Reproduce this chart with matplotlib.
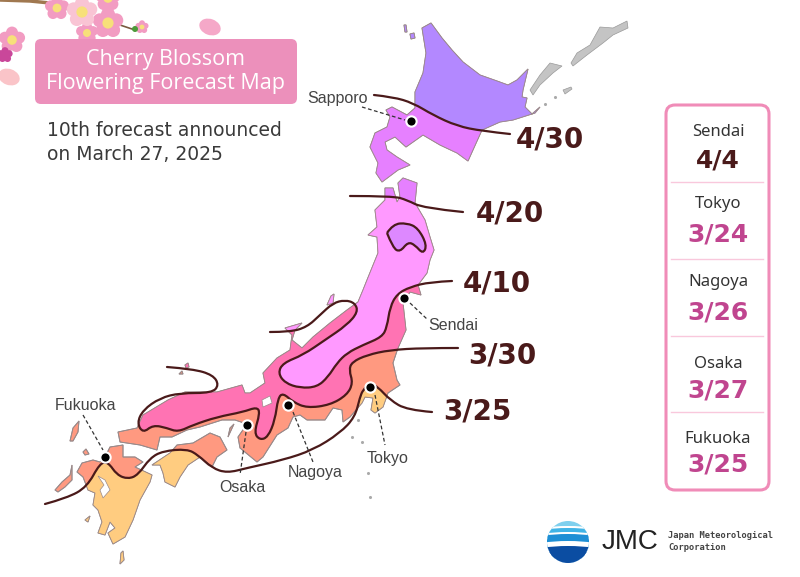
import matplotlib
matplotlib.use("Agg")
import matplotlib.pyplot as plt
from matplotlib.patches import Circle, Ellipse, FancyBboxPatch, PathPatch, Polygon, Rectangle
from matplotlib.path import Path
import numpy as np

# Map outlines in image pixels
hokkaido = [(422,28),(431,23),(442,38),(452,50),(463,62),(480,75),(497,81),(508,85),(517,80),(528,69),
            (523,90),(522,97),(527,98),(525,107),(532,114),(540,107),(535,113),(513,120),(500,122),(482,130),
            (468,161),(457,153),(440,145),(423,135),(406,147),(395,137),(385,142),(387,150),(397,157),(410,165),
            (398,170),(382,182),(376,173),(378,163),(370,147),(375,133),(387,127),(390,117),(386,110),(392,107),
            (407,115),(415,108),(415,92),(423,73),(426,53)]
honshu = [(385,188),(393,188),(397,202),(400,197),(398,183),(403,178),(417,183),(415,203),(425,220),(430,237),
          (434,250),(430,260),(427,273),(418,285),(421,295),(410,292),(403,303),(406,330),(398,348),(393,363),
          (397,380),(400,385),(388,393),(383,407),(375,413),(371,410),(373,398),(365,397),(362,403),(350,417),
          (343,422),(342,410),(333,408),(325,420),(307,420),(300,415),(293,417),(288,428),(277,435),(263,457),
          (257,462),(240,448),(238,437),(247,424),(235,420),(222,420),(200,427),(187,430),(172,437),(160,437),
          (157,450),(140,445),(120,442),(118,432),(137,428),(143,415),(168,400),(185,392),(217,392),(242,385),
          (245,393),(250,393),(265,383),(263,373),(277,358),(290,350),(292,335),(285,328),(302,323),(295,330),
          (292,340),(302,348),(313,337),(330,323),(347,310),(358,302),(363,290),(367,280),(378,253),(377,237),
          (368,235),(377,227),(375,210),(385,200)]
shikoku = [(152,465),(170,453),(177,445),(193,443),(210,433),(220,437),(227,450),(217,457),(212,467),(200,457),
           (188,465),(180,477),(175,487),(165,482),(163,473),(160,465)]
kyushu = [(105,457),(110,447),(123,445),(123,457),(135,457),(143,462),(135,467),(152,475),(150,482),(140,500),
          (133,520),(125,537),(113,544),(108,533),(115,528),(110,522),(105,535),(98,533),(102,522),(98,510),
          (93,505),(95,493),(88,490),(83,477),(77,472),(82,463),(93,460),(100,462)]
islands = [[(410,34),(414,33),(415,38),(411,39)],
           [(404,25),(406,25),(407,32),(405,32)],
           [(327,305),(331,296),(334,294),(333,303)],
           [(55,490),(62,482),(70,475),(72,465),(72,480),(65,487),(58,492)],
           [(70,441),(73,428),(79,421),(78,432),(73,441)],
           [(83,452),(86,449),(89,454),(85,455)],
           [(121,553),(123,551),(124,560),(120,564)],
           [(85,520),(90,516),(88,522)],
           [(230,428),(234,424),(228,437)],
           [(185,365),(188,363),(189,367),(186,368)],
           [(179,374),(182,371),(183,374)]]
kuril_islands = [[(530,90),(540,75),(550,63),(562,66),(553,73),(540,85),(533,95)],
                 [(571,63),(577,53),(590,45),(600,27),(613,28),(627,21),(628,28),(613,35),(603,43),(587,55),(573,66)],
                 [(563,90),(571,87),(572,89),(565,94)]]
biwa_lake = [(262,400),(270,396),(272,403),(263,407)]
ariake_sea = [(98,476),(105,480),(110,490),(103,498),(100,490),(104,485)]
grey_dots = [(358,420),(352,437),(362,442),(368,473),(370,497),(545,104),(555,97)]

# Isolines
line_430 = [(374,95),(393,97),(413,103),(433,115),(457,126),(482,131),(510,134)]
line_420 = [(350,196),(393,196),(407,200),(423,208),(463,212)]
line_410 = [(452,281),(430,282),(410,287),(397,294),(390,307),(387,327),(382,337),(363,345),(347,353),(337,363),
            (328,377),(317,387),(300,388),(285,383),(278,373),(283,363),(303,355),(325,340),(347,325),(358,312),
            (355,303),(345,300),(333,303),(320,315),(307,327),(290,332),(270,332)]
line_330 = [(458,348),(423,348),(390,350),(367,355),(352,362),(349,370),(353,383),(347,395),(330,405),(307,408),
            (293,402),(283,393),(278,398),(275,420),(268,437),(260,440),(254,433),(260,413),(257,407),(243,412),
            (217,417),(193,425),(178,432),(167,428),(153,425),(143,433),(137,423),(143,410),(160,398),(180,393),
            (212,393),(219,385),(213,375),(193,369),(167,367)]
line_325 = [(45,504),(67,498),(87,487),(100,463),(108,462),(117,475),(128,479),(138,475),(150,458),(163,451),
            (187,449),(198,455),(212,468),(227,473),(247,468),(283,460),(313,450),(340,433),(355,417),(360,397),
            (363,390),(370,383),(378,387),(390,400),(407,410),(432,412)]
cold_spot = [(387,233),(393,224),(407,223),(418,228),(427,245),(423,254),(415,245),(408,242),(400,252),(393,248),(387,233)]

line_labels = ["4/30", "4/20", "4/10", "3/30", "3/25"]
line_label_pos = [(550,140), (510,213), (497,284), (502,355), (477,411)]

cities = ["Sapporo", "Sendai", "Tokyo", "Nagoya", "Osaka", "Fukuoka"]
city_xy = [(411,121), (404,298), (370,387), (288,405), (247,425), (105,457)]
city_label_xy = [(338,99), (453,326), (388,458), (315,472), (242,488), (85,405)]
leader_ends = [((362,107),(405,120)), ((410,303),(428,320)), ((375,395),(385,445)),
               ((293,412),(313,462)), ((246,432),(240,475)), ((83,415),(103,450))]

panel_cities = ["Sendai", "Tokyo", "Nagoya", "Osaka", "Fukuoka"]
panel_dates = ["4/4", "3/24", "3/26", "3/27", "3/25"]
panel_name_y = [132, 204, 282, 364, 439]
panel_date_y = [160, 234, 312, 391, 465]
panel_div_y = [182, 259, 336, 412]

# flower centre x, y, size, petal colour
flowers = [(57,8,11,"#F29CC2"), (108,-2,12,"#F29CC2"), (108,23,14,"#F29CC2"), (87,33,10,"#F29CC2"),
           (82,12,14,"#F9C4D4"), (12,40,12,"#F29CC2"), (5,55,7,"#C9479A"), (142,27,6,"#F29CC2")]
petals = [(210,27,11,8,"#F5A8C8"), (9,77,11,8,"#FAC4C8")]

# top edge of each logo band
logo_tops = [521, 526, 528, 532, 534, 541, 546]
logo_colours = ["#7FD0EE", "white", "#41B4E6", "white", "#1E8FD5", "white", "#0B4DA2"]

PURPLE, MAGENTA, LIGHT, HOT, CORAL, ORANGE = "#B388FF", "#E680FF", "#FF99FF", "#FF73B3", "#FF9980", "#FFCC80"
LINE = "#4A1A1A"


def smooth_path(points, closing=()):
    # quadratic spline through the midpoints, then straight closing edges
    verts = [points[0]]
    codes = [Path.MOVETO]
    for i in range(1, len(points) - 1):
        end = points[-1] if i == len(points) - 2 else ((points[i][0] + points[i+1][0]) / 2, (points[i][1] + points[i+1][1]) / 2)
        verts += [points[i], end]
        codes += [Path.CURVE3, Path.CURVE3]
    for p in closing:
        verts.append(p)
        codes.append(Path.LINETO)
    return Path(verts, codes)


fig = plt.figure(figsize=(8, 5.77), dpi=100)
ax = fig.add_axes([0, 0, 1, 1])
ax.set_xlim(0, 800)
ax.set_ylim(577, 0)
ax.axis("off")

# Blossoms behind the title box
ax.plot([0, 30, 50], [0, 1, 3], color="#A07850", lw=2.5, zorder=1)
ax.plot([120, 135], [25, 30], color="#7A5A40", lw=1.2, zorder=1)
for x, y, r, col in flowers:
    for a in np.deg2rad([-90, -18, 54, 126, 198]):
        ax.add_patch(Circle((x + 0.62 * r * np.cos(a), y + 0.62 * r * np.sin(a)), 0.5 * r, color=col, lw=0, zorder=2))
    ax.add_patch(Circle((x, y), 0.4 * r, color="#F7E07A" if col != "#C9479A" else col, lw=0, zorder=3))
for x, y, w, h, col in petals:
    ax.add_patch(Ellipse((x, y), 2 * w, 2 * h, angle=20, color=col, lw=0, zorder=2))
ax.add_patch(Circle((135, 29), 3, color="#4C9A3A", lw=0, zorder=3))

# Land as one compound path, zones are clipped to it
land_polys = [hokkaido, honshu, shikoku, kyushu] + islands
land_path = Path.make_compound_path(*[Path(np.array(p + [p[0]], dtype=float), closed=True) for p in land_polys])
land = PathPatch(land_path, facecolor=CORAL, edgecolor="#9A8A8A", lw=0.7, zorder=4)
ax.add_patch(land)

zones = [
    (smooth_path(line_325, [(432,570),(45,570)]), ORANGE),
    (smooth_path(line_330, [(167,150),(470,150)]), HOT),
    (smooth_path(line_410, [(270,150),(470,150)]), LIGHT),
    (smooth_path(line_420, [(640,212),(640,60),(350,60)]), MAGENTA),
    (smooth_path(line_430, [(640,134),(640,10),(374,10)]), PURPLE),
]
for path, col in zones:
    z = PathPatch(path, facecolor=col, edgecolor="none", zorder=5)
    ax.add_patch(z)
    z.set_clip_path(land)
ax.add_patch(PathPatch(land_path, facecolor="none", edgecolor="#9A8A8A", lw=0.6, zorder=6))
ax.add_patch(Polygon(biwa_lake, facecolor="white", edgecolor="#9A8A8A", lw=0.5, zorder=6))
ax.add_patch(Polygon(ariake_sea, facecolor="white", edgecolor="#9A8A8A", lw=0.5, zorder=6))
for p in kuril_islands:
    ax.add_patch(Polygon(p, facecolor="#C4C4C4", edgecolor="#999999", lw=0.5, zorder=6))
ax.scatter(*zip(*grey_dots), s=5, color="#AAAAAA", lw=0, zorder=6)

# Isolines
ax.add_patch(PathPatch(smooth_path(cold_spot), facecolor="#DD88FF", edgecolor=LINE, lw=1.6, zorder=7))
for pts in [line_430, line_420, line_410, line_330, line_325]:
    ax.add_patch(PathPatch(smooth_path(pts), facecolor="none", edgecolor=LINE, lw=1.6, capstyle="round", zorder=8))
for lab, (x, y) in zip(line_labels, line_label_pos):
    ax.text(x, y, lab, fontsize=20, fontweight="bold", color=LINE, ha="center", va="center", zorder=9)

# Cities
for (a, b) in leader_ends:
    ax.plot([a[0], b[0]], [a[1], b[1]], color="#333333", lw=0.9, ls=(0, (3, 2)), zorder=9)
ax.scatter(*zip(*city_xy), s=55, color="black", edgecolor="white", lw=1.5, zorder=10)
for name, (x, y) in zip(cities, city_label_xy):
    ax.text(x, y, name, fontsize=11.5, family="Liberation Sans", color="#444444", ha="center", va="center", zorder=10)

# Title
ax.add_patch(FancyBboxPatch((40, 44), 252, 55, boxstyle="round,pad=5,rounding_size=6", facecolor="#EC90BB", edgecolor="none", zorder=11))
ax.text(166, 60, "Cherry Blossom", fontsize=15.5, family="Open Sans", color="white", ha="center", va="center", zorder=12)
ax.text(166, 84, "Flowering Forecast Map", fontsize=15.5, family="Open Sans", color="white", ha="center", va="center", zorder=12)
ax.text(47, 131, "10th forecast announced", fontsize=13.5, family="DejaVu Sans", color="#3A3A3A", ha="left", va="center")
ax.text(47, 155, "on March 27, 2025", fontsize=13.5, family="DejaVu Sans", color="#3A3A3A", ha="left", va="center")

# Side panel
ax.add_patch(FancyBboxPatch((673, 112), 89, 371, boxstyle="round,pad=7,rounding_size=9", facecolor="white", edgecolor="#F08CB8", lw=2.2, zorder=3))
for y in panel_div_y:
    ax.plot([671, 763], [y, y], color="#F9C8DC", lw=1, zorder=4)
for i, (name, date) in enumerate(zip(panel_cities, panel_dates)):
    ax.text(718, panel_name_y[i], name, fontsize=12, family="Noto Sans", color="#333333", ha="center", va="center", zorder=5)
    ax.text(718, panel_date_y[i], date, fontsize=18, fontweight="bold", color=LINE if date == "4/4" else "#C0458F", ha="center", va="center", zorder=5)

# JMC logo
logo = Circle((568, 542), 21, facecolor="white", edgecolor="none", zorder=3)
ax.add_patch(logo)
for top, col in zip(logo_tops, logo_colours):
    band = [Ellipse((568, top + 6), 70, 12, facecolor=col, edgecolor="none", zorder=4),
            Rectangle((545, top + 6), 46, 25, facecolor=col, edgecolor="none", zorder=4)]
    for b in band:
        ax.add_patch(b)
        b.set_clip_path(logo)
ax.text(630, 542, "JMC", fontsize=20, family="Liberation Sans", color="#222222", ha="center", va="center")
ax.text(668, 536, "Japan Meteorological", fontsize=6.3, fontweight="bold", family="DejaVu Sans Mono", color="#444444", ha="left", va="center")
ax.text(668, 548, "Corporation", fontsize=6.3, fontweight="bold", family="DejaVu Sans Mono", color="#444444", ha="left", va="center")

fig.savefig("out.png", dpi=100)
